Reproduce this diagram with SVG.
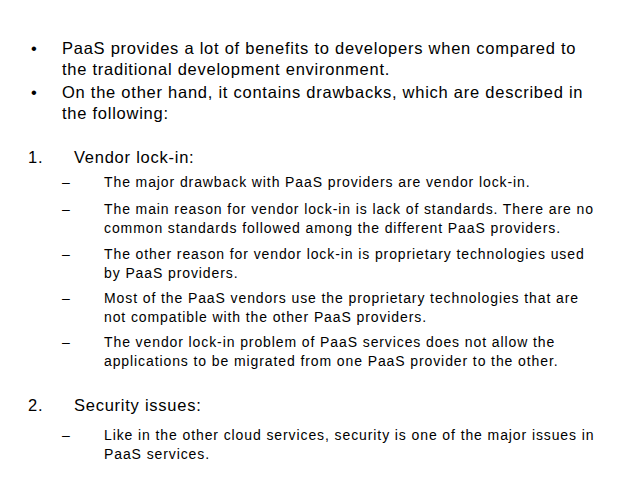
<svg xmlns="http://www.w3.org/2000/svg" width="638" height="478" viewBox="0 0 638 478">
<style>
text{font-family:"Liberation Sans",Arial,sans-serif;fill:#000}
.a{font-size:16.5px;letter-spacing:0.75px}
.b{font-size:14px;letter-spacing:0.9px}
</style>
<rect width="638" height="478" fill="#fff"/>
<g class="a">
<text x="31" y="54">•</text>
<text x="62" y="54">PaaS provides a lot of benefits to developers when compared to</text>
<text x="62" y="75">the traditional development environment.</text>
<text x="31" y="98">•</text>
<text x="62" y="98">On the other hand, it contains drawbacks, which are described in</text>
<text x="62" y="119">the following:</text>
<text x="28" y="163">1.</text>
<text x="74" y="163">Vendor lock-in:</text>
<text x="28" y="411">2.</text>
<text x="74" y="411">Security issues:</text>
</g>
<g class="b">
<text x="62" y="187">–</text>
<text x="104" y="187">The major drawback with PaaS providers are vendor lock-in.</text>
<text x="62" y="214">–</text>
<text x="104" y="214">The main reason for vendor lock-in is lack of standards. There are no</text>
<text x="104" y="233">common standards followed among the different PaaS providers.</text>
<text x="62" y="259">–</text>
<text x="104" y="259">The other reason for vendor lock-in is proprietary technologies used</text>
<text x="104" y="278">by PaaS providers.</text>
<text x="62" y="303">–</text>
<text x="104" y="303">Most of the PaaS vendors use the proprietary technologies that are</text>
<text x="104" y="322">not compatible with the other PaaS providers.</text>
<text x="62" y="347">–</text>
<text x="104" y="347">The vendor lock-in problem of PaaS services does not allow the</text>
<text x="104" y="366">applications to be migrated from one PaaS provider to the other.</text>
<text x="62" y="440">–</text>
<text x="104" y="440">Like in the other cloud services, security is one of the major issues in</text>
<text x="104" y="459">PaaS services.</text>
</g>
</svg>
